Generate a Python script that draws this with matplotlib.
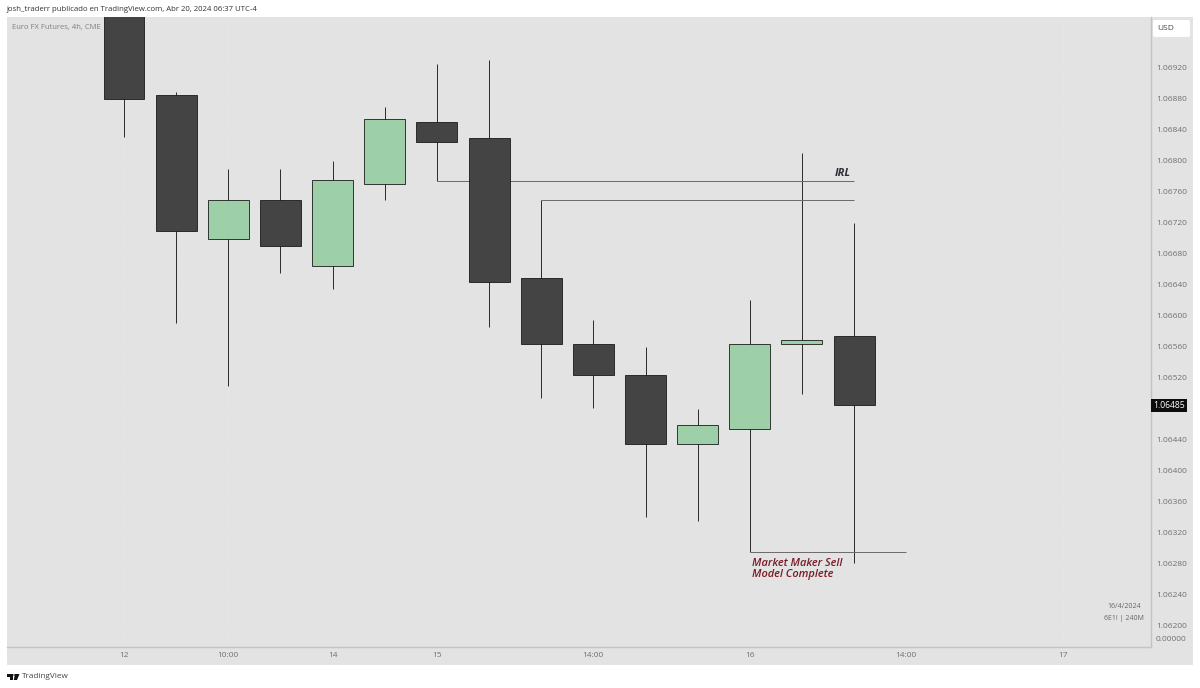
import matplotlib
matplotlib.use("Agg")
import matplotlib.pyplot as plt
from matplotlib.patches import Rectangle, Polygon, Circle, FancyBboxPatch

plt.rcParams['font.family'] = ['Open Sans', 'DejaVu Sans']

# Candle data (prices)
opens  = [1.06880, 1.06885, 1.06699, 1.06750, 1.06665, 1.06770, 1.06850, 1.06830, 1.06649, 1.06564, 1.06524, 1.06435, 1.06454, 1.06564, 1.06574]
closes = [1.07001, 1.06710, 1.06750, 1.06690, 1.06776, 1.06854, 1.06825, 1.06644, 1.06564, 1.06524, 1.06435, 1.06459, 1.06564, 1.06569, 1.06485]
highs  = [1.07010, 1.06889, 1.06790, 1.06790, 1.06800, 1.06870, 1.06925, 1.06930, 1.06750, 1.06595, 1.06560, 1.06480, 1.06621, 1.06810, 1.06720]
lows   = [1.06831, 1.06591, 1.06510, 1.06656, 1.06635, 1.06750, 1.06774, 1.06586, 1.06494, 1.06481, 1.06341, 1.06336, 1.06296, 1.06499, 1.06281]
dark = [True, True, False, True, False, False, True, True, True, True, True, False, False, False, True]

y_ticks = [1.06920, 1.06880, 1.06840, 1.06800, 1.06760, 1.06720, 1.06680, 1.06640, 1.06600, 1.06560,
           1.06520, 1.06480, 1.06440, 1.06400, 1.06360, 1.06320, 1.06280, 1.06240, 1.06200]
# 1.06480 is covered by the last-price tag in the reference
y_tick_labels = ["" if abs(v - 1.06480) < 1e-7 else "%.5f" % v for v in y_ticks]
x_ticks = [0, 2, 4, 6, 9, 12, 15, 18]
x_tick_labels = ["12", "10:00", "14", "15", "14:00", "16", "14:00", "17"]
last_price = 1.06485

# (start candle, end candle, price)
h_levels = [(6, 14, 1.06774), (8, 14, 1.06750), (12, 15, 1.06296)]

W, H = 1200, 688
fig = plt.figure(figsize=(W / 100, H / 100), dpi=100, facecolor='white')

L, R, T, B = 6.5, 1150.5, 17, 647
ax = fig.add_axes([L / W, 1 - B / H, (R - L) / W, (B - T) / H])
PANEL = '#e3e3e3'
ax.set_facecolor(PANEL)

fig.patches.append(Rectangle((L / W, 1 - 665 / H), (1193 - L) / W, (665 - T) / H,
                             transform=fig.transFigure, facecolor=PANEL, edgecolor='none', zorder=-5))

px_per_i = 52.15
ax.set_xlim((L - 124) / px_per_i, (R - 124) / px_per_i)
ppp = 0.0004 / 31
ax.set_ylim(1.0692 - (B - 68) * ppp, 1.0692 - (T - 68) * ppp)

ax.set_yticks(y_ticks)
ax.set_yticklabels(y_tick_labels)
ax.yaxis.tick_right()
ax.set_xticks(x_ticks)
ax.set_xticklabels(x_tick_labels)
ax.tick_params(axis='y', length=0, pad=4, labelsize=6, labelcolor='#707070')
ax.tick_params(axis='x', length=0, pad=3.5, labelsize=6, labelcolor='#707070')
ax.grid(True, color='#e6e6e6', lw=0.6, zorder=0)
ax.set_axisbelow(True)
for s in ['top', 'left']:
    ax.spines[s].set_visible(False)
for s in ['right', 'bottom']:
    ax.spines[s].set_color('#c4c4c4')
    ax.spines[s].set_linewidth(1.0)

ax.annotate("0.00000", xy=(1, 0), xycoords='axes fraction', xytext=(4, 5.6), textcoords='offset points',
            fontsize=6, color='#707070', va='center', ha='left', annotation_clip=False)

GREEN, DARK = '#9dd0a8', '#444444'
for i in range(len(opens)):
    ax.vlines(i, lows[i], highs[i], color='#2a2a2a', lw=0.7, zorder=2)
    lo, hi = sorted((opens[i], closes[i]))
    ax.bar(i, hi - lo, bottom=lo, width=0.785, color=DARK if dark[i] else GREEN,
           edgecolor='#1a1a1a', linewidth=0.6, zorder=3)

for a, b, p in h_levels:
    ax.hlines(p, a, b, color='#6a6a6a', lw=0.7, zorder=2.5)

ax.text(13.79, 1.06784, "IRL", fontsize=8, style='italic', fontweight='bold', color='#2f2f3a', ha='center', va='center')
ax.text(12.05, 1.06280, "Market Maker Sell", fontsize=7.9, style='italic', fontweight='semibold', color='#7a1c28', ha='left', va='center')
ax.text(12.05, 1.06267, "Model Complete", fontsize=7.9, style='italic', fontweight='semibold', color='#7a1c28', ha='left', va='center')

ax.annotate(f"{last_price:.5f}", xy=(1, last_price), xycoords=('axes fraction', 'data'), xytext=(18.5, 0),
            textcoords='offset pixels', fontsize=6.2, color='white', va='center', ha='center',
            annotation_clip=False, bbox=dict(boxstyle='square,pad=0.22', fc='#0d0d0d', ec='none'), zorder=6)

def ftext(x, y, s, **kw):
    fig.text(x / W, 1 - y / H, s, **kw)

ftext(6.5, 9.5, "josh_traderr publicado en TradingView.com, Abr 20, 2024 06:37 UTC-4", fontsize=5.6, color='#333333', va='center')
ftext(12, 28, "Euro FX Futures, 4h, CME", fontsize=5.5, color='#808080', va='center')
ftext(1124, 607, "16/4/2024", fontsize=5, color='#666666', va='center', ha='center')
ftext(1124, 618.5, "6E1! | 240M", fontsize=5, color='#666666', va='center', ha='center')
ftext(22, 676.5, "TradingView", fontsize=5.9, color='#444444', va='center')

fig.patches.append(FancyBboxPatch((1153 / W, 1 - 37 / H), 37 / W, 17 / H, boxstyle='round,pad=0,rounding_size=0.002',
                                  transform=fig.transFigure, facecolor='white', edgecolor='none', zorder=4))
ftext(1165.5, 29, "USD", fontsize=6, color='#444444', va='center', ha='center', zorder=5)

def poly(pts):
    fig.patches.append(Polygon([(x / W, 1 - y / H) for x, y in pts], closed=True, transform=fig.transFigure,
                               facecolor='#111111', edgecolor='none'))
poly([(7, 674), (13, 674), (13, 680), (10, 680), (10, 677), (7, 677)])
poly([(15, 674), (19.5, 674), (17, 680), (13.8, 680)])
fig.patches.append(Circle((14.2 / W, 1 - 675 / H), 0.0009, transform=fig.transFigure, facecolor='#111111', edgecolor='none'))

fig.savefig("out.png", dpi=100, facecolor='white')
